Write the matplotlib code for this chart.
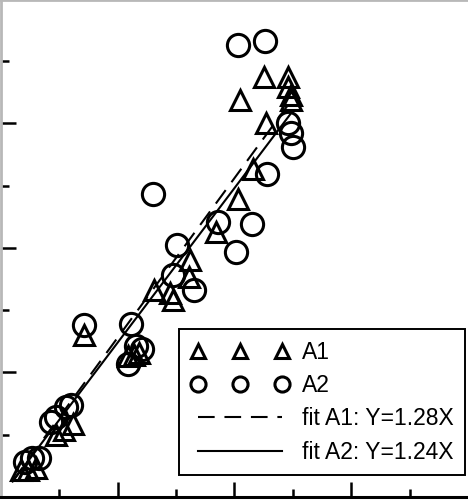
import numpy as np
import matplotlib
matplotlib.use("Agg")
import matplotlib.pyplot as plt

plt.rcParams['font.family'] = ['Liberation Sans', 'DejaVu Sans']

# A1 points (triangles)
a1_x = [0.17, 0.23, 0.30, 0.47, 0.54, 0.62, 0.71, 1.09, 1.14, 1.18, 1.31, 1.45, 1.47,
        1.61, 1.62, 1.84, 2.03, 2.05, 2.16, 2.27, 2.25, 2.46, 2.46, 2.48, 2.48]
a1_y = [0.22, 0.22, 0.23, 0.50, 0.54, 0.59, 1.30, 1.13, 1.14, 1.16, 1.66, 1.64, 1.58,
        1.77, 1.90, 2.13, 2.39, 3.19, 2.63, 3.00, 3.37, 3.37, 3.29, 3.23, 3.19]

# A2 points (circles)
a2_x = [0.21, 0.27, 0.33, 0.43, 0.47, 0.56, 0.60, 0.71, 1.09, 1.11, 1.16, 1.21, 1.30,
        1.47, 1.51, 1.65, 1.86, 2.01, 2.15, 2.28, 2.03, 2.26, 2.46, 2.48, 2.50]
a2_y = [0.28, 0.31, 0.31, 0.60, 0.64, 0.72, 0.74, 1.38, 1.07, 1.39, 1.21, 1.19, 2.43,
        1.78, 2.02, 1.66, 2.21, 1.97, 2.19, 2.59, 3.63, 3.66, 3.00, 2.92, 2.81]

slope_a1 = 1.28
slope_a2 = 1.24
fit_x = np.array([0.10, 2.48])

fig = plt.figure(figsize=(4.68, 5.0), dpi=100)
ax = fig.add_axes([0.002, 0.006, 0.998, 0.994])

l1, = ax.plot(fit_x, slope_a1 * fit_x, color='black', lw=1.5, dashes=(8, 4.7),
              label='fit A1: Y=1.28X')
l2, = ax.plot(fit_x, slope_a2 * fit_x, color='black', lw=1.5, label='fit A2: Y=1.24X')
m1, = ax.plot(a1_x, a1_y, ls='none', marker='^', ms=15, mfc='none', mec='black',
              mew=2.2, label='A1')
m2, = ax.plot(a2_x, a2_y, ls='none', marker='o', ms=16, mfc='none', mec='black',
              mew=2.2, label='A2')

ax.set_xlim(0, 4.0)
ax.set_ylim(0, 3.99)
ax.set_xticks([1, 2, 3])
ax.set_xticks([0.5, 1.5, 2.5, 3.5], minor=True)
ax.set_yticks([1, 2, 3])
ax.set_yticks([0.5, 1.5, 2.5, 3.5], minor=True)
ax.tick_params(which='both', direction='in', labelbottom=False, labelleft=False,
               width=1.8, color='black')
ax.tick_params(which='major', length=11)
ax.tick_params(which='minor', length=6)

ax.spines['right'].set_visible(False)
ax.spines['top'].set_color('#b8b8b8')
ax.spines['top'].set_linewidth(2)
ax.spines['left'].set_color('#b8b8b8')
ax.spines['left'].set_linewidth(2)
ax.spines['bottom'].set_linewidth(2.2)

leg = ax.legend(handles=[m1, m2, l1, l2], loc='lower right',
                bbox_to_anchor=(465 / 468, 1 - 475 / 500), bbox_transform=fig.transFigure,
                borderaxespad=0, numpoints=3, markerscale=0.68, fontsize=16.5,
                handlelength=4.3, handletextpad=0.55, labelspacing=0.45, borderpad=0.5,
                fancybox=False, framealpha=1, edgecolor='black')
leg.get_frame().set_linewidth(1.4)

fig.savefig('out.png', dpi=100)
